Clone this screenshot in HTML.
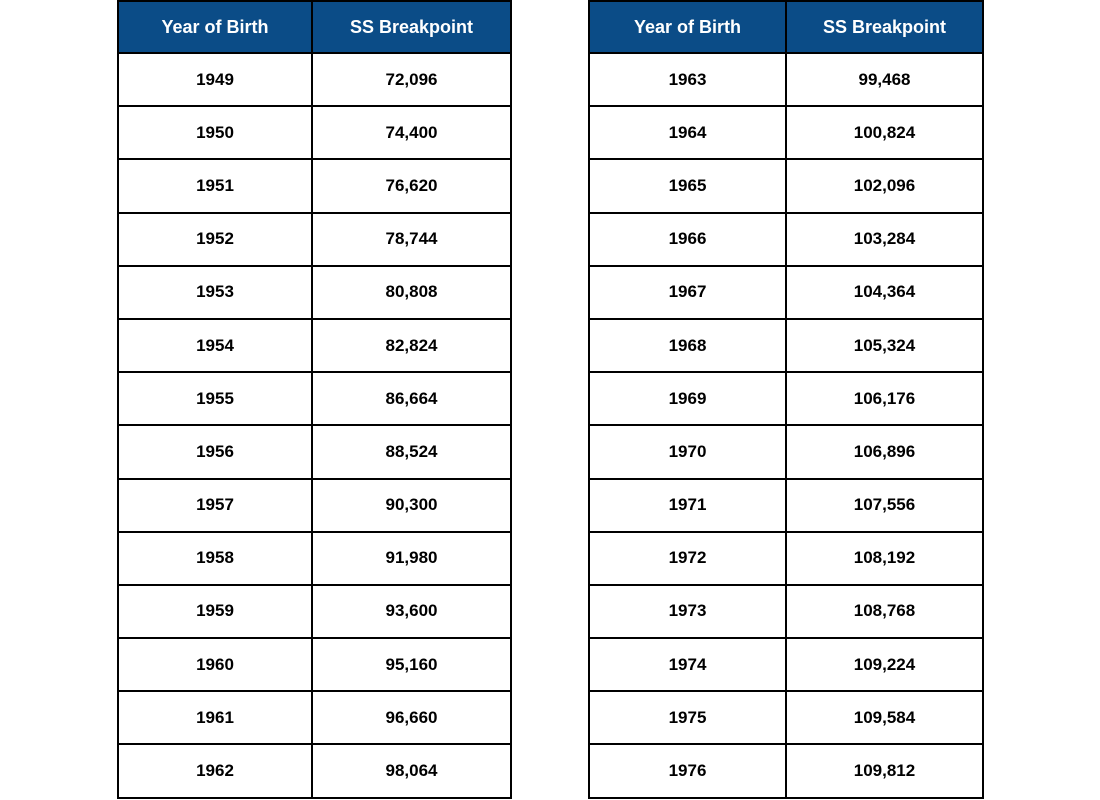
<!DOCTYPE html>
<html><head><style>
body{margin:0;width:1100px;height:800px;background:#fff;position:relative;overflow:hidden;font-family:"Liberation Sans",Arial,sans-serif;}
table{position:absolute;top:0;border-collapse:collapse;table-layout:fixed;}
td,th{border:2px solid #000;height:51.2px;padding:0;text-align:center;font-weight:bold;font-size:17px;color:#000;}
th{background:#0b4c87;color:#fff;font-size:18px;height:50px;}
</style></head><body>
<table style="left:117px;width:393px">
<colgroup><col style="width:194px"><col style="width:199px"></colgroup>
<tr><th>Year of Birth</th><th>SS Breakpoint</th></tr>
<tr><td>1949</td><td>72,096</td></tr>
<tr><td>1950</td><td>74,400</td></tr>
<tr><td>1951</td><td>76,620</td></tr>
<tr><td>1952</td><td>78,744</td></tr>
<tr><td>1953</td><td>80,808</td></tr>
<tr><td>1954</td><td>82,824</td></tr>
<tr><td>1955</td><td>86,664</td></tr>
<tr><td>1956</td><td>88,524</td></tr>
<tr><td>1957</td><td>90,300</td></tr>
<tr><td>1958</td><td>91,980</td></tr>
<tr><td>1959</td><td>93,600</td></tr>
<tr><td>1960</td><td>95,160</td></tr>
<tr><td>1961</td><td>96,660</td></tr>
<tr><td>1962</td><td>98,064</td></tr>
</table>
<table style="left:588px;width:394px">
<colgroup><col style="width:197px"><col style="width:197px"></colgroup>
<tr><th>Year of Birth</th><th>SS Breakpoint</th></tr>
<tr><td>1963</td><td>99,468</td></tr>
<tr><td>1964</td><td>100,824</td></tr>
<tr><td>1965</td><td>102,096</td></tr>
<tr><td>1966</td><td>103,284</td></tr>
<tr><td>1967</td><td>104,364</td></tr>
<tr><td>1968</td><td>105,324</td></tr>
<tr><td>1969</td><td>106,176</td></tr>
<tr><td>1970</td><td>106,896</td></tr>
<tr><td>1971</td><td>107,556</td></tr>
<tr><td>1972</td><td>108,192</td></tr>
<tr><td>1973</td><td>108,768</td></tr>
<tr><td>1974</td><td>109,224</td></tr>
<tr><td>1975</td><td>109,584</td></tr>
<tr><td>1976</td><td>109,812</td></tr>
</table>
</body></html>
